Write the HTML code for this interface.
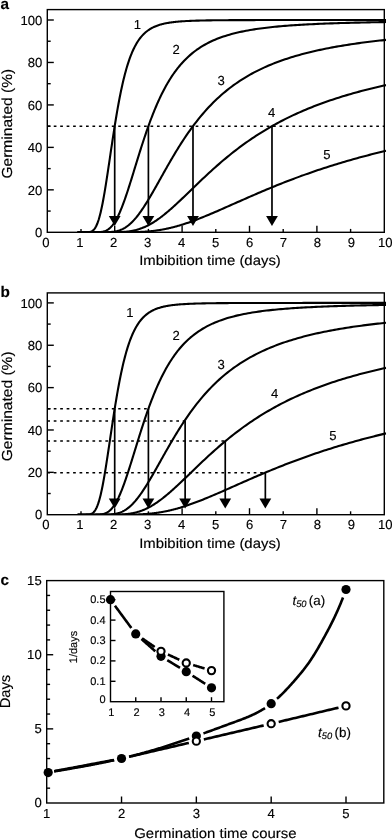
<!DOCTYPE html>
<html lang="en">
<head>
<meta charset="utf-8">
<title>Germination time courses</title>
<style>
html,body{margin:0;padding:0;background:#fff;}
body{width:392px;height:839px;overflow:hidden;}
svg{display:block;}
svg text{font-family:"Liberation Sans", Arial, Helvetica, sans-serif;fill:#000;}
</style>
</head>
<body>
<svg width="392" height="839" viewBox="0 0 392 839" stroke="#000" text-rendering="geometricPrecision">
<rect x="0" y="0" width="392" height="839" fill="#fff" stroke="none"/>
<g stroke="#000">
<g id="panel-a">
<clipPath id="clipa"><rect x="47.30" y="9.60" width="339.00" height="222.70"/></clipPath>
<line x1="47.30" y1="126.15" x2="384.30" y2="126.15" stroke-width="1.5" stroke-dasharray="2.7 3.75"/>
<g clip-path="url(#clipa)">
<path d="M77.63,232.30 L78.29,232.30 L78.94,232.30 L79.60,232.30 L80.26,232.30 L80.92,232.30 L81.57,232.30 L82.23,232.30 L82.89,232.30 L83.54,232.30 L84.20,232.30 L84.86,232.29 L85.51,232.29 L86.17,232.27 L86.83,232.26 L87.49,232.22 L88.14,232.18 L88.80,232.11 L89.46,232.01 L90.11,231.87 L90.77,231.67 L91.43,231.41 L92.08,231.07 L92.74,230.63 L93.40,230.08 L94.06,229.41 L94.71,228.58 L95.37,227.59 L96.03,226.42 L96.68,225.07 L97.34,223.51 L98.00,221.74 L98.66,219.75 L99.31,217.54 L99.97,215.10 L100.63,212.45 L101.28,209.58 L101.94,206.51 L102.60,203.23 L103.25,199.77 L103.91,196.14 L104.57,192.34 L105.23,188.41 L105.88,184.35 L106.54,180.18 L107.20,175.92 L107.85,171.59 L108.51,167.21 L109.17,162.79 L109.83,158.35 L110.48,153.90 L111.14,149.47 L111.80,145.06 L112.45,140.68 L113.11,136.35 L113.77,132.09 L114.42,127.89 L115.08,123.77 L115.74,119.73 L116.40,115.78 L117.05,111.93 L117.71,108.19 L118.37,104.54 L119.02,101.00 L119.68,97.57 L120.34,94.26 L120.99,91.05 L121.65,87.95 L122.31,84.96 L122.97,82.09 L123.62,79.32 L124.28,76.66 L124.94,74.11 L125.59,71.65 L126.25,69.30 L126.91,67.05 L127.57,64.89 L128.22,62.82 L128.88,60.85 L129.54,58.96 L130.19,57.16 L130.85,55.43 L131.51,53.79 L132.16,52.22 L132.82,50.72 L133.48,49.29 L134.14,47.93 L134.79,46.63 L135.45,45.39 L136.11,44.21 L136.76,43.09 L137.42,42.02 L138.08,41.00 L138.74,40.03 L139.39,39.11 L140.05,38.23 L140.71,37.40 L141.36,36.60 L142.02,35.84 L142.68,35.12 L143.33,34.44 L143.99,33.78 L144.65,33.16 L145.31,32.57 L145.96,32.01 L146.62,31.47 L147.28,30.96 L147.93,30.48 L148.59,30.01 L149.25,29.57 L149.90,29.15 L150.56,28.76 L151.22,28.38 L151.88,28.01 L152.53,27.67 L153.19,27.34 L153.85,27.03 L154.50,26.73 L155.16,26.44 L155.82,26.17 L156.48,25.91 L157.13,25.67 L157.79,25.43 L158.45,25.21 L159.10,25.00 L159.76,24.79 L160.42,24.60 L161.07,24.41 L161.73,24.23 L162.39,24.06 L163.05,23.90 L163.70,23.75 L164.36,23.60 L165.02,23.46 L165.67,23.32 L166.33,23.19 L166.99,23.07 L167.65,22.95 L168.30,22.84 L168.96,22.73 L169.62,22.63 L170.27,22.53 L170.93,22.44 L171.59,22.35 L172.24,22.26 L172.90,22.18 L173.56,22.10 L174.22,22.02 L174.87,21.95 L175.53,21.88 L176.19,21.81 L176.84,21.75 L177.50,21.69 L178.16,21.63 L178.81,21.57 L179.47,21.52 L180.13,21.46 L180.79,21.41 L181.44,21.36 L182.10,21.32 L184.16,21.18 L186.22,21.07 L188.28,20.96 L190.34,20.87 L192.40,20.79 L194.46,20.71 L196.52,20.65 L198.58,20.59 L200.63,20.54 L202.69,20.49 L204.75,20.45 L206.81,20.41 L208.87,20.38 L210.93,20.35 L212.99,20.32 L215.05,20.30 L217.11,20.27 L219.17,20.25 L221.23,20.23 L223.29,20.22 L225.35,20.20 L227.41,20.19 L229.47,20.17 L231.53,20.16 L233.59,20.15 L235.65,20.14 L237.71,20.13 L239.76,20.12 L241.82,20.12 L243.88,20.11 L245.94,20.10 L248.00,20.10 L250.06,20.09 L252.12,20.08 L254.18,20.08 L256.24,20.07 L258.30,20.07 L260.36,20.07 L262.42,20.06 L264.48,20.06 L266.54,20.06 L268.60,20.05 L270.66,20.05 L272.72,20.05 L274.78,20.05 L276.83,20.04 L278.89,20.04 L280.95,20.04 L283.01,20.04 L285.07,20.04 L287.13,20.03 L289.19,20.03 L291.25,20.03 L293.31,20.03 L295.37,20.03 L297.43,20.03 L299.49,20.03 L301.55,20.03 L303.61,20.02 L305.67,20.02 L307.73,20.02 L309.79,20.02 L311.85,20.02 L313.90,20.02 L315.96,20.02 L318.02,20.02 L320.08,20.02 L322.14,20.02 L324.20,20.02 L326.26,20.02 L328.32,20.02 L330.38,20.01 L332.44,20.01 L334.50,20.01 L336.56,20.01 L338.62,20.01 L340.68,20.01 L342.74,20.01 L344.80,20.01 L346.86,20.01 L348.92,20.01 L350.97,20.01 L353.03,20.01 L355.09,20.01 L357.15,20.01 L359.21,20.01 L361.27,20.01 L363.33,20.01 L365.39,20.01 L367.45,20.01 L369.51,20.01 L371.57,20.01 L373.63,20.01 L375.69,20.01 L377.75,20.01 L379.81,20.01 L381.87,20.01 L383.93,20.01 L385.99,20.01" fill="none" stroke-width="2.1" stroke-linejoin="round"/>
<path d="M77.63,232.30 L78.29,232.30 L78.94,232.30 L79.60,232.30 L80.26,232.30 L80.92,232.30 L81.57,232.30 L82.23,232.30 L82.89,232.30 L83.54,232.30 L84.20,232.30 L84.86,232.30 L85.51,232.30 L86.17,232.30 L86.83,232.30 L87.49,232.30 L88.14,232.30 L88.80,232.30 L89.46,232.30 L90.11,232.30 L90.77,232.30 L91.43,232.30 L92.08,232.30 L92.74,232.30 L93.40,232.29 L94.06,232.29 L94.71,232.28 L95.37,232.27 L96.03,232.26 L96.68,232.25 L97.34,232.23 L98.00,232.20 L98.66,232.17 L99.31,232.12 L99.97,232.07 L100.63,232.00 L101.28,231.92 L101.94,231.81 L102.60,231.69 L103.25,231.54 L103.91,231.37 L104.57,231.16 L105.23,230.92 L105.88,230.65 L106.54,230.34 L107.20,229.98 L107.85,229.58 L108.51,229.13 L109.17,228.63 L109.83,228.08 L110.48,227.48 L111.14,226.81 L111.80,226.09 L112.45,225.30 L113.11,224.46 L113.77,223.55 L114.42,222.58 L115.08,221.55 L115.74,220.45 L116.40,219.29 L117.05,218.06 L117.71,216.78 L118.37,215.43 L119.02,214.02 L119.68,212.56 L120.34,211.04 L120.99,209.46 L121.65,207.84 L122.31,206.16 L122.97,204.43 L123.62,202.66 L124.28,200.85 L124.94,198.99 L125.59,197.10 L126.25,195.18 L126.91,193.22 L127.57,191.23 L128.22,189.21 L128.88,187.18 L129.54,185.12 L130.19,183.04 L130.85,180.94 L131.51,178.83 L132.16,176.71 L132.82,174.58 L133.48,172.45 L134.14,170.31 L134.79,168.17 L135.45,166.03 L136.11,163.89 L136.76,161.75 L137.42,159.62 L138.08,157.50 L138.74,155.39 L139.39,153.28 L140.05,151.19 L140.71,149.12 L141.36,147.05 L142.02,145.01 L142.68,142.98 L143.33,140.97 L143.99,138.97 L144.65,137.00 L145.31,135.05 L145.96,133.12 L146.62,131.21 L147.28,129.32 L147.93,127.46 L148.59,125.62 L149.25,123.80 L149.90,122.01 L150.56,120.24 L151.22,118.50 L151.88,116.79 L152.53,115.09 L153.19,113.43 L153.85,111.79 L154.50,110.17 L155.16,108.58 L155.82,107.02 L156.48,105.48 L157.13,103.96 L157.79,102.48 L158.45,101.01 L159.10,99.57 L159.76,98.16 L160.42,96.77 L161.07,95.41 L161.73,94.07 L162.39,92.75 L163.05,91.46 L163.70,90.19 L164.36,88.94 L165.02,87.72 L165.67,86.52 L166.33,85.34 L166.99,84.19 L167.65,83.05 L168.30,81.94 L168.96,80.85 L169.62,79.78 L170.27,78.73 L170.93,77.70 L171.59,76.69 L172.24,75.70 L172.90,74.72 L173.56,73.77 L174.22,72.84 L174.87,71.92 L175.53,71.02 L176.19,70.14 L176.84,69.28 L177.50,68.43 L178.16,67.60 L178.81,66.79 L179.47,65.99 L180.13,65.21 L180.79,64.44 L181.44,63.69 L182.10,62.95 L184.16,60.74 L186.22,58.66 L188.28,56.70 L190.34,54.86 L192.40,53.13 L194.46,51.51 L196.52,49.98 L198.58,48.54 L200.63,47.19 L202.69,45.92 L204.75,44.72 L206.81,43.59 L208.87,42.52 L210.93,41.52 L212.99,40.57 L215.05,39.68 L217.11,38.83 L219.17,38.03 L221.23,37.28 L223.29,36.57 L225.35,35.89 L227.41,35.25 L229.47,34.65 L231.53,34.07 L233.59,33.53 L235.65,33.01 L237.71,32.52 L239.76,32.06 L241.82,31.61 L243.88,31.19 L245.94,30.79 L248.00,30.41 L250.06,30.05 L252.12,29.70 L254.18,29.37 L256.24,29.06 L258.30,28.76 L260.36,28.48 L262.42,28.20 L264.48,27.94 L266.54,27.69 L268.60,27.45 L270.66,27.23 L272.72,27.01 L274.78,26.80 L276.83,26.60 L278.89,26.41 L280.95,26.22 L283.01,26.05 L285.07,25.88 L287.13,25.71 L289.19,25.56 L291.25,25.41 L293.31,25.26 L295.37,25.13 L297.43,24.99 L299.49,24.86 L301.55,24.74 L303.61,24.62 L305.67,24.51 L307.73,24.40 L309.79,24.29 L311.85,24.19 L313.90,24.09 L315.96,23.99 L318.02,23.90 L320.08,23.81 L322.14,23.73 L324.20,23.64 L326.26,23.56 L328.32,23.49 L330.38,23.41 L332.44,23.34 L334.50,23.27 L336.56,23.20 L338.62,23.13 L340.68,23.07 L342.74,23.01 L344.80,22.95 L346.86,22.89 L348.92,22.83 L350.97,22.78 L353.03,22.73 L355.09,22.67 L357.15,22.62 L359.21,22.58 L361.27,22.53 L363.33,22.48 L365.39,22.44 L367.45,22.40 L369.51,22.35 L371.57,22.31 L373.63,22.27 L375.69,22.23 L377.75,22.20 L379.81,22.16 L381.87,22.12 L383.93,22.09 L385.99,22.06" fill="none" stroke-width="2.1" stroke-linejoin="round"/>
<path d="M77.63,232.30 L78.29,232.30 L78.94,232.30 L79.60,232.30 L80.26,232.30 L80.92,232.30 L81.57,232.30 L82.23,232.30 L82.89,232.30 L83.54,232.30 L84.20,232.30 L84.86,232.30 L85.51,232.30 L86.17,232.30 L86.83,232.30 L87.49,232.30 L88.14,232.30 L88.80,232.30 L89.46,232.30 L90.11,232.30 L90.77,232.30 L91.43,232.30 L92.08,232.30 L92.74,232.30 L93.40,232.30 L94.06,232.30 L94.71,232.30 L95.37,232.30 L96.03,232.30 L96.68,232.30 L97.34,232.30 L98.00,232.30 L98.66,232.30 L99.31,232.30 L99.97,232.30 L100.63,232.29 L101.28,232.29 L101.94,232.29 L102.60,232.28 L103.25,232.28 L103.91,232.27 L104.57,232.26 L105.23,232.25 L105.88,232.24 L106.54,232.22 L107.20,232.20 L107.85,232.18 L108.51,232.15 L109.17,232.12 L109.83,232.08 L110.48,232.03 L111.14,231.98 L111.80,231.92 L112.45,231.85 L113.11,231.77 L113.77,231.68 L114.42,231.58 L115.08,231.47 L115.74,231.34 L116.40,231.20 L117.05,231.05 L117.71,230.88 L118.37,230.69 L119.02,230.49 L119.68,230.27 L120.34,230.03 L120.99,229.77 L121.65,229.49 L122.31,229.19 L122.97,228.87 L123.62,228.53 L124.28,228.17 L124.94,227.78 L125.59,227.37 L126.25,226.94 L126.91,226.48 L127.57,226.00 L128.22,225.50 L128.88,224.97 L129.54,224.42 L130.19,223.84 L130.85,223.24 L131.51,222.62 L132.16,221.97 L132.82,221.30 L133.48,220.61 L134.14,219.89 L134.79,219.15 L135.45,218.39 L136.11,217.61 L136.76,216.80 L137.42,215.98 L138.08,215.13 L138.74,214.27 L139.39,213.39 L140.05,212.48 L140.71,211.56 L141.36,210.62 L142.02,209.67 L142.68,208.70 L143.33,207.71 L143.99,206.71 L144.65,205.69 L145.31,204.66 L145.96,203.62 L146.62,202.57 L147.28,201.50 L147.93,200.42 L148.59,199.33 L149.25,198.24 L149.90,197.13 L150.56,196.01 L151.22,194.89 L151.88,193.76 L152.53,192.62 L153.19,191.48 L153.85,190.33 L154.50,189.18 L155.16,188.02 L155.82,186.86 L156.48,185.69 L157.13,184.53 L157.79,183.36 L158.45,182.18 L159.10,181.01 L159.76,179.84 L160.42,178.66 L161.07,177.49 L161.73,176.32 L162.39,175.14 L163.05,173.97 L163.70,172.80 L164.36,171.64 L165.02,170.47 L165.67,169.31 L166.33,168.15 L166.99,167.00 L167.65,165.84 L168.30,164.70 L168.96,163.55 L169.62,162.41 L170.27,161.28 L170.93,160.15 L171.59,159.03 L172.24,157.91 L172.90,156.79 L173.56,155.69 L174.22,154.59 L174.87,153.49 L175.53,152.40 L176.19,151.32 L176.84,150.24 L177.50,149.18 L178.16,148.11 L178.81,147.06 L179.47,146.01 L180.13,144.97 L180.79,143.94 L181.44,142.91 L182.10,141.90 L184.16,138.75 L186.22,135.69 L188.28,132.70 L190.34,129.79 L192.40,126.96 L194.46,124.21 L196.52,121.53 L198.58,118.94 L200.63,116.41 L202.69,113.97 L204.75,111.60 L206.81,109.30 L208.87,107.07 L210.93,104.91 L212.99,102.81 L215.05,100.79 L217.11,98.83 L219.17,96.92 L221.23,95.08 L223.29,93.30 L225.35,91.58 L227.41,89.91 L229.47,88.29 L231.53,86.72 L233.59,85.21 L235.65,83.74 L237.71,82.32 L239.76,80.94 L241.82,79.61 L243.88,78.31 L245.94,77.06 L248.00,75.85 L250.06,74.68 L252.12,73.54 L254.18,72.43 L256.24,71.36 L258.30,70.32 L260.36,69.32 L262.42,68.34 L264.48,67.40 L266.54,66.48 L268.60,65.58 L270.66,64.72 L272.72,63.88 L274.78,63.06 L276.83,62.27 L278.89,61.50 L280.95,60.75 L283.01,60.03 L285.07,59.32 L287.13,58.63 L289.19,57.97 L291.25,57.32 L293.31,56.69 L295.37,56.07 L297.43,55.48 L299.49,54.89 L301.55,54.33 L303.61,53.78 L305.67,53.24 L307.73,52.72 L309.79,52.21 L311.85,51.71 L313.90,51.23 L315.96,50.76 L318.02,50.30 L320.08,49.85 L322.14,49.41 L324.20,48.99 L326.26,48.57 L328.32,48.17 L330.38,47.77 L332.44,47.39 L334.50,47.01 L336.56,46.64 L338.62,46.28 L340.68,45.93 L342.74,45.59 L344.80,45.25 L346.86,44.93 L348.92,44.61 L350.97,44.30 L353.03,43.99 L355.09,43.69 L357.15,43.40 L359.21,43.11 L361.27,42.83 L363.33,42.56 L365.39,42.29 L367.45,42.03 L369.51,41.77 L371.57,41.52 L373.63,41.28 L375.69,41.04 L377.75,40.80 L379.81,40.57 L381.87,40.34 L383.93,40.12 L385.99,39.90" fill="none" stroke-width="2.1" stroke-linejoin="round"/>
<path d="M77.63,232.30 L78.29,232.30 L78.94,232.30 L79.60,232.30 L80.26,232.30 L80.92,232.30 L81.57,232.30 L82.23,232.30 L82.89,232.30 L83.54,232.30 L84.20,232.30 L84.86,232.30 L85.51,232.30 L86.17,232.30 L86.83,232.30 L87.49,232.30 L88.14,232.30 L88.80,232.30 L89.46,232.30 L90.11,232.30 L90.77,232.30 L91.43,232.30 L92.08,232.30 L92.74,232.30 L93.40,232.30 L94.06,232.30 L94.71,232.30 L95.37,232.30 L96.03,232.30 L96.68,232.30 L97.34,232.30 L98.00,232.30 L98.66,232.30 L99.31,232.30 L99.97,232.30 L100.63,232.30 L101.28,232.30 L101.94,232.30 L102.60,232.30 L103.25,232.30 L103.91,232.30 L104.57,232.30 L105.23,232.30 L105.88,232.30 L106.54,232.30 L107.20,232.30 L107.85,232.29 L108.51,232.29 L109.17,232.29 L109.83,232.29 L110.48,232.29 L111.14,232.28 L111.80,232.28 L112.45,232.27 L113.11,232.27 L113.77,232.26 L114.42,232.25 L115.08,232.25 L115.74,232.23 L116.40,232.22 L117.05,232.21 L117.71,232.19 L118.37,232.17 L119.02,232.15 L119.68,232.13 L120.34,232.10 L120.99,232.07 L121.65,232.04 L122.31,232.01 L122.97,231.97 L123.62,231.92 L124.28,231.87 L124.94,231.82 L125.59,231.76 L126.25,231.70 L126.91,231.63 L127.57,231.56 L128.22,231.48 L128.88,231.40 L129.54,231.30 L130.19,231.21 L130.85,231.10 L131.51,230.99 L132.16,230.87 L132.82,230.74 L133.48,230.61 L134.14,230.47 L134.79,230.32 L135.45,230.16 L136.11,229.99 L136.76,229.82 L137.42,229.63 L138.08,229.44 L138.74,229.24 L139.39,229.03 L140.05,228.81 L140.71,228.58 L141.36,228.34 L142.02,228.10 L142.68,227.84 L143.33,227.57 L143.99,227.30 L144.65,227.02 L145.31,226.72 L145.96,226.42 L146.62,226.11 L147.28,225.79 L147.93,225.45 L148.59,225.11 L149.25,224.77 L149.90,224.41 L150.56,224.04 L151.22,223.66 L151.88,223.28 L152.53,222.89 L153.19,222.49 L153.85,222.07 L154.50,221.66 L155.16,221.23 L155.82,220.79 L156.48,220.35 L157.13,219.90 L157.79,219.44 L158.45,218.98 L159.10,218.50 L159.76,218.02 L160.42,217.54 L161.07,217.04 L161.73,216.54 L162.39,216.03 L163.05,215.52 L163.70,215.00 L164.36,214.47 L165.02,213.94 L165.67,213.40 L166.33,212.86 L166.99,212.31 L167.65,211.76 L168.30,211.20 L168.96,210.64 L169.62,210.07 L170.27,209.50 L170.93,208.92 L171.59,208.34 L172.24,207.76 L172.90,207.17 L173.56,206.57 L174.22,205.98 L174.87,205.38 L175.53,204.78 L176.19,204.17 L176.84,203.56 L177.50,202.95 L178.16,202.34 L178.81,201.73 L179.47,201.11 L180.13,200.49 L180.79,199.87 L181.44,199.24 L182.10,198.62 L184.16,196.65 L186.22,194.67 L188.28,192.68 L190.34,190.69 L192.40,188.70 L194.46,186.71 L196.52,184.73 L198.58,182.75 L200.63,180.79 L202.69,178.83 L204.75,176.89 L206.81,174.97 L208.87,173.06 L210.93,171.18 L212.99,169.31 L215.05,167.46 L217.11,165.64 L219.17,163.84 L221.23,162.06 L223.29,160.31 L225.35,158.58 L227.41,156.87 L229.47,155.20 L231.53,153.54 L233.59,151.91 L235.65,150.31 L237.71,148.74 L239.76,147.19 L241.82,145.66 L243.88,144.16 L245.94,142.69 L248.00,141.24 L250.06,139.82 L252.12,138.42 L254.18,137.04 L256.24,135.69 L258.30,134.37 L260.36,133.06 L262.42,131.78 L264.48,130.53 L266.54,129.30 L268.60,128.08 L270.66,126.90 L272.72,125.73 L274.78,124.58 L276.83,123.46 L278.89,122.35 L280.95,121.27 L283.01,120.20 L285.07,119.16 L287.13,118.13 L289.19,117.12 L291.25,116.13 L293.31,115.16 L295.37,114.20 L297.43,113.27 L299.49,112.35 L301.55,111.44 L303.61,110.56 L305.67,109.68 L307.73,108.83 L309.79,107.99 L311.85,107.16 L313.90,106.35 L315.96,105.55 L318.02,104.77 L320.08,104.00 L322.14,103.24 L324.20,102.50 L326.26,101.77 L328.32,101.05 L330.38,100.35 L332.44,99.65 L334.50,98.97 L336.56,98.30 L338.62,97.64 L340.68,97.00 L342.74,96.36 L344.80,95.73 L346.86,95.12 L348.92,94.51 L350.97,93.92 L353.03,93.33 L355.09,92.75 L357.15,92.19 L359.21,91.63 L361.27,91.08 L363.33,90.54 L365.39,90.01 L367.45,89.49 L369.51,88.97 L371.57,88.47 L373.63,87.97 L375.69,87.48 L377.75,86.99 L379.81,86.52 L381.87,86.05 L383.93,85.59 L385.99,85.13" fill="none" stroke-width="2.1" stroke-linejoin="round"/>
<path d="M77.63,232.30 L78.29,232.30 L78.94,232.30 L79.60,232.30 L80.26,232.30 L80.92,232.30 L81.57,232.30 L82.23,232.30 L82.89,232.30 L83.54,232.30 L84.20,232.30 L84.86,232.30 L85.51,232.30 L86.17,232.30 L86.83,232.30 L87.49,232.30 L88.14,232.30 L88.80,232.30 L89.46,232.30 L90.11,232.30 L90.77,232.30 L91.43,232.30 L92.08,232.30 L92.74,232.30 L93.40,232.30 L94.06,232.30 L94.71,232.30 L95.37,232.30 L96.03,232.30 L96.68,232.30 L97.34,232.30 L98.00,232.30 L98.66,232.30 L99.31,232.30 L99.97,232.30 L100.63,232.30 L101.28,232.30 L101.94,232.30 L102.60,232.30 L103.25,232.30 L103.91,232.30 L104.57,232.30 L105.23,232.30 L105.88,232.30 L106.54,232.30 L107.20,232.30 L107.85,232.30 L108.51,232.30 L109.17,232.30 L109.83,232.30 L110.48,232.30 L111.14,232.30 L111.80,232.30 L112.45,232.30 L113.11,232.30 L113.77,232.30 L114.42,232.30 L115.08,232.30 L115.74,232.30 L116.40,232.30 L117.05,232.30 L117.71,232.30 L118.37,232.29 L119.02,232.29 L119.68,232.29 L120.34,232.29 L120.99,232.29 L121.65,232.29 L122.31,232.28 L122.97,232.28 L123.62,232.28 L124.28,232.28 L124.94,232.27 L125.59,232.27 L126.25,232.26 L126.91,232.26 L127.57,232.25 L128.22,232.24 L128.88,232.24 L129.54,232.23 L130.19,232.22 L130.85,232.21 L131.51,232.20 L132.16,232.19 L132.82,232.17 L133.48,232.16 L134.14,232.14 L134.79,232.13 L135.45,232.11 L136.11,232.09 L136.76,232.07 L137.42,232.05 L138.08,232.02 L138.74,232.00 L139.39,231.97 L140.05,231.94 L140.71,231.91 L141.36,231.88 L142.02,231.85 L142.68,231.81 L143.33,231.77 L143.99,231.73 L144.65,231.69 L145.31,231.65 L145.96,231.60 L146.62,231.55 L147.28,231.50 L147.93,231.44 L148.59,231.39 L149.25,231.33 L149.90,231.26 L150.56,231.20 L151.22,231.13 L151.88,231.06 L152.53,230.99 L153.19,230.92 L153.85,230.84 L154.50,230.76 L155.16,230.67 L155.82,230.59 L156.48,230.50 L157.13,230.40 L157.79,230.31 L158.45,230.21 L159.10,230.11 L159.76,230.00 L160.42,229.90 L161.07,229.78 L161.73,229.67 L162.39,229.55 L163.05,229.43 L163.70,229.31 L164.36,229.19 L165.02,229.06 L165.67,228.92 L166.33,228.79 L166.99,228.65 L167.65,228.51 L168.30,228.37 L168.96,228.22 L169.62,228.07 L170.27,227.92 L170.93,227.76 L171.59,227.60 L172.24,227.44 L172.90,227.27 L173.56,227.11 L174.22,226.93 L174.87,226.76 L175.53,226.58 L176.19,226.41 L176.84,226.22 L177.50,226.04 L178.16,225.85 L178.81,225.66 L179.47,225.47 L180.13,225.27 L180.79,225.08 L181.44,224.87 L182.10,224.67 L184.16,224.02 L186.22,223.34 L188.28,222.65 L190.34,221.93 L192.40,221.19 L194.46,220.43 L196.52,219.66 L198.58,218.86 L200.63,218.06 L202.69,217.24 L204.75,216.40 L206.81,215.55 L208.87,214.70 L210.93,213.83 L212.99,212.96 L215.05,212.07 L217.11,211.18 L219.17,210.29 L221.23,209.38 L223.29,208.48 L225.35,207.57 L227.41,206.66 L229.47,205.74 L231.53,204.83 L233.59,203.91 L235.65,203.00 L237.71,202.08 L239.76,201.17 L241.82,200.26 L243.88,199.35 L245.94,198.44 L248.00,197.53 L250.06,196.63 L252.12,195.73 L254.18,194.84 L256.24,193.95 L258.30,193.06 L260.36,192.18 L262.42,191.31 L264.48,190.44 L266.54,189.57 L268.60,188.72 L270.66,187.86 L272.72,187.02 L274.78,186.18 L276.83,185.34 L278.89,184.51 L280.95,183.69 L283.01,182.88 L285.07,182.07 L287.13,181.27 L289.19,180.48 L291.25,179.69 L293.31,178.91 L295.37,178.14 L297.43,177.37 L299.49,176.62 L301.55,175.86 L303.61,175.12 L305.67,174.38 L307.73,173.65 L309.79,172.93 L311.85,172.21 L313.90,171.51 L315.96,170.80 L318.02,170.11 L320.08,169.42 L322.14,168.74 L324.20,168.07 L326.26,167.40 L328.32,166.74 L330.38,166.08 L332.44,165.44 L334.50,164.80 L336.56,164.16 L338.62,163.54 L340.68,162.91 L342.74,162.30 L344.80,161.69 L346.86,161.09 L348.92,160.50 L350.97,159.91 L353.03,159.32 L355.09,158.75 L357.15,158.18 L359.21,157.61 L361.27,157.05 L363.33,156.50 L365.39,155.95 L367.45,155.41 L369.51,154.87 L371.57,154.34 L373.63,153.82 L375.69,153.30 L377.75,152.78 L379.81,152.27 L381.87,151.77 L383.93,151.27 L385.99,150.78" fill="none" stroke-width="2.1" stroke-linejoin="round"/>
</g>
<line x1="114.70" y1="126.15" x2="114.70" y2="221.00" stroke-width="1.7"/>
<polygon points="108.80,216.00 120.60,216.00 114.70,226.00" fill="#000" stroke="none"/>
<line x1="148.40" y1="126.15" x2="148.40" y2="221.00" stroke-width="1.7"/>
<polygon points="142.50,216.00 154.30,216.00 148.40,226.00" fill="#000" stroke="none"/>
<line x1="192.99" y1="126.15" x2="192.99" y2="221.00" stroke-width="1.7"/>
<polygon points="187.09,216.00 198.89,216.00 192.99,226.00" fill="#000" stroke="none"/>
<line x1="271.98" y1="126.15" x2="271.98" y2="221.00" stroke-width="1.7"/>
<polygon points="266.08,216.00 277.88,216.00 271.98,226.00" fill="#000" stroke="none"/>
<rect x="47.30" y="9.60" width="337.00" height="222.70" fill="none" stroke-width="1.4"/>
<text stroke="#000" stroke-width="0.15" transform="translate(42.30,237.00) scale(1.0,1)" font-size="13.1" text-anchor="end">0</text>
<line x1="47.30" y1="211.07" x2="50.70" y2="211.07" stroke-width="1.4"/>
<line x1="47.30" y1="189.84" x2="53.80" y2="189.84" stroke-width="1.4"/>
<text stroke="#000" stroke-width="0.15" transform="translate(42.30,194.54) scale(1.0,1)" font-size="13.1" text-anchor="end">20</text>
<line x1="47.30" y1="168.61" x2="50.70" y2="168.61" stroke-width="1.4"/>
<line x1="47.30" y1="147.38" x2="53.80" y2="147.38" stroke-width="1.4"/>
<text stroke="#000" stroke-width="0.15" transform="translate(42.30,152.08) scale(1.0,1)" font-size="13.1" text-anchor="end">40</text>
<line x1="47.30" y1="126.15" x2="50.70" y2="126.15" stroke-width="1.4"/>
<line x1="47.30" y1="104.92" x2="53.80" y2="104.92" stroke-width="1.4"/>
<text stroke="#000" stroke-width="0.15" transform="translate(42.30,109.62) scale(1.0,1)" font-size="13.1" text-anchor="end">60</text>
<line x1="47.30" y1="83.69" x2="50.70" y2="83.69" stroke-width="1.4"/>
<line x1="47.30" y1="62.46" x2="53.80" y2="62.46" stroke-width="1.4"/>
<text stroke="#000" stroke-width="0.15" transform="translate(42.30,67.16) scale(1.0,1)" font-size="13.1" text-anchor="end">80</text>
<line x1="47.30" y1="41.23" x2="50.70" y2="41.23" stroke-width="1.4"/>
<line x1="47.30" y1="20.00" x2="53.80" y2="20.00" stroke-width="1.4"/>
<text stroke="#000" stroke-width="0.15" transform="translate(42.30,24.70) scale(1.0,1)" font-size="13.1" text-anchor="end">100</text>
<text stroke="#000" stroke-width="0.15" transform="translate(45.85,246.80) scale(1.0,1)" font-size="13.1" text-anchor="middle">0</text>
<line x1="81.00" y1="232.30" x2="81.00" y2="228.90" stroke-width="1.4"/>
<text stroke="#000" stroke-width="0.15" transform="translate(79.80,246.80) scale(1.0,1)" font-size="13.1" text-anchor="middle">1</text>
<line x1="114.70" y1="232.30" x2="114.70" y2="225.80" stroke-width="1.4"/>
<text stroke="#000" stroke-width="0.15" transform="translate(113.75,246.80) scale(1.0,1)" font-size="13.1" text-anchor="middle">2</text>
<line x1="148.40" y1="232.30" x2="148.40" y2="228.90" stroke-width="1.4"/>
<text stroke="#000" stroke-width="0.15" transform="translate(147.70,246.80) scale(1.0,1)" font-size="13.1" text-anchor="middle">3</text>
<line x1="182.10" y1="232.30" x2="182.10" y2="225.80" stroke-width="1.4"/>
<text stroke="#000" stroke-width="0.15" transform="translate(181.65,246.80) scale(1.0,1)" font-size="13.1" text-anchor="middle">4</text>
<line x1="215.80" y1="232.30" x2="215.80" y2="228.90" stroke-width="1.4"/>
<text stroke="#000" stroke-width="0.15" transform="translate(215.60,246.80) scale(1.0,1)" font-size="13.1" text-anchor="middle">5</text>
<line x1="249.50" y1="232.30" x2="249.50" y2="225.80" stroke-width="1.4"/>
<text stroke="#000" stroke-width="0.15" transform="translate(249.55,246.80) scale(1.0,1)" font-size="13.1" text-anchor="middle">6</text>
<line x1="283.20" y1="232.30" x2="283.20" y2="228.90" stroke-width="1.4"/>
<text stroke="#000" stroke-width="0.15" transform="translate(283.50,246.80) scale(1.0,1)" font-size="13.1" text-anchor="middle">7</text>
<line x1="316.90" y1="232.30" x2="316.90" y2="225.80" stroke-width="1.4"/>
<text stroke="#000" stroke-width="0.15" transform="translate(317.45,246.80) scale(1.0,1)" font-size="13.1" text-anchor="middle">8</text>
<line x1="350.60" y1="232.30" x2="350.60" y2="228.90" stroke-width="1.4"/>
<text stroke="#000" stroke-width="0.15" transform="translate(351.40,246.80) scale(1.0,1)" font-size="13.1" text-anchor="middle">9</text>
<text stroke="#000" stroke-width="0.15" transform="translate(385.35,246.80) scale(1.0,1)" font-size="13.1" text-anchor="middle">10</text>
<text stroke="#000" stroke-width="0.15" transform="translate(210.00,265.20) scale(1.08,1)" font-size="13.8" text-anchor="middle">Imbibition time (days)</text>
<text stroke="#000" stroke-width="0.15" transform="translate(11.50,123.65) rotate(-90) scale(1.074,1)" font-size="14.5" text-anchor="middle">Germinated (%)</text>
<text stroke="#000" stroke-width="0.15" transform="translate(137.30,29.00) scale(1.0,1)" font-size="13.1" text-anchor="middle">1</text>
<text stroke="#000" stroke-width="0.15" transform="translate(176.20,53.50) scale(1.0,1)" font-size="13.1" text-anchor="middle">2</text>
<text stroke="#000" stroke-width="0.15" transform="translate(221.20,85.00) scale(1.0,1)" font-size="13.1" text-anchor="middle">3</text>
<text stroke="#000" stroke-width="0.15" transform="translate(271.70,116.70) scale(1.0,1)" font-size="13.1" text-anchor="middle">4</text>
<text stroke="#000" stroke-width="0.15" transform="translate(327.00,158.70) scale(1.0,1)" font-size="13.1" text-anchor="middle">5</text>
<text stroke="#000" stroke-width="0.15" x="0.4" y="8.8" font-size="15.3" font-weight="bold">a</text>
</g>
<g id="panel-b">
<clipPath id="clipb"><rect x="47.30" y="292.90" width="339.00" height="221.80"/></clipPath>
<line x1="47.30" y1="408.80" x2="148.40" y2="408.80" stroke-width="1.5" stroke-dasharray="2.7 3.75"/>
<line x1="47.30" y1="421.08" x2="185.13" y2="421.08" stroke-width="1.5" stroke-dasharray="2.7 3.75"/>
<line x1="47.30" y1="440.99" x2="225.24" y2="440.99" stroke-width="1.5" stroke-dasharray="2.7 3.75"/>
<line x1="47.30" y1="472.76" x2="265.34" y2="472.76" stroke-width="1.5" stroke-dasharray="2.7 3.75"/>
<g clip-path="url(#clipb)">
<path d="M77.63,514.70 L78.29,514.70 L78.94,514.70 L79.60,514.70 L80.26,514.70 L80.92,514.70 L81.57,514.70 L82.23,514.70 L82.89,514.70 L83.54,514.70 L84.20,514.70 L84.86,514.69 L85.51,514.69 L86.17,514.67 L86.83,514.66 L87.49,514.62 L88.14,514.58 L88.80,514.51 L89.46,514.41 L90.11,514.27 L90.77,514.07 L91.43,513.81 L92.08,513.47 L92.74,513.04 L93.40,512.49 L94.06,511.81 L94.71,510.99 L95.37,510.00 L96.03,508.84 L96.68,507.48 L97.34,505.93 L98.00,504.16 L98.66,502.18 L99.31,499.97 L99.97,497.54 L100.63,494.90 L101.28,492.04 L101.94,488.97 L102.60,485.70 L103.25,482.25 L103.91,478.62 L104.57,474.84 L105.23,470.91 L105.88,466.86 L106.54,462.70 L107.20,458.46 L107.85,454.14 L108.51,449.76 L109.17,445.35 L109.83,440.92 L110.48,436.49 L111.14,432.06 L111.80,427.66 L112.45,423.30 L113.11,418.98 L113.77,414.72 L114.42,410.53 L115.08,406.42 L115.74,402.40 L116.40,398.46 L117.05,394.62 L117.71,390.88 L118.37,387.24 L119.02,383.71 L119.68,380.29 L120.34,376.98 L120.99,373.78 L121.65,370.69 L122.31,367.71 L122.97,364.84 L123.62,362.08 L124.28,359.43 L124.94,356.88 L125.59,354.43 L126.25,352.08 L126.91,349.84 L127.57,347.68 L128.22,345.62 L128.88,343.65 L129.54,341.77 L130.19,339.97 L130.85,338.25 L131.51,336.61 L132.16,335.04 L132.82,333.55 L133.48,332.12 L134.14,330.76 L134.79,329.47 L135.45,328.23 L136.11,327.06 L136.76,325.94 L137.42,324.87 L138.08,323.85 L138.74,322.89 L139.39,321.97 L140.05,321.09 L140.71,320.26 L141.36,319.46 L142.02,318.71 L142.68,317.99 L143.33,317.30 L143.99,316.65 L144.65,316.03 L145.31,315.44 L145.96,314.88 L146.62,314.34 L147.28,313.84 L147.93,313.35 L148.59,312.89 L149.25,312.45 L149.90,312.03 L150.56,311.64 L151.22,311.26 L151.88,310.89 L152.53,310.55 L153.19,310.22 L153.85,309.91 L154.50,309.61 L155.16,309.33 L155.82,309.06 L156.48,308.80 L157.13,308.55 L157.79,308.32 L158.45,308.10 L159.10,307.88 L159.76,307.68 L160.42,307.49 L161.07,307.30 L161.73,307.12 L162.39,306.95 L163.05,306.79 L163.70,306.64 L164.36,306.49 L165.02,306.35 L165.67,306.22 L166.33,306.09 L166.99,305.96 L167.65,305.85 L168.30,305.73 L168.96,305.63 L169.62,305.52 L170.27,305.43 L170.93,305.33 L171.59,305.24 L172.24,305.15 L172.90,305.07 L173.56,304.99 L174.22,304.92 L174.87,304.84 L175.53,304.77 L176.19,304.71 L176.84,304.64 L177.50,304.58 L178.16,304.52 L178.81,304.47 L179.47,304.41 L180.13,304.36 L180.79,304.31 L181.44,304.26 L182.10,304.22 L184.16,304.08 L186.22,303.96 L188.28,303.86 L190.34,303.77 L192.40,303.69 L194.46,303.61 L196.52,303.55 L198.58,303.49 L200.63,303.44 L202.69,303.39 L204.75,303.35 L206.81,303.31 L208.87,303.28 L210.93,303.25 L212.99,303.22 L215.05,303.19 L217.11,303.17 L219.17,303.15 L221.23,303.13 L223.29,303.12 L225.35,303.10 L227.41,303.09 L229.47,303.07 L231.53,303.06 L233.59,303.05 L235.65,303.04 L237.71,303.03 L239.76,303.02 L241.82,303.01 L243.88,303.01 L245.94,303.00 L248.00,303.00 L250.06,302.99 L252.12,302.98 L254.18,302.98 L256.24,302.97 L258.30,302.97 L260.36,302.97 L262.42,302.96 L264.48,302.96 L266.54,302.96 L268.60,302.95 L270.66,302.95 L272.72,302.95 L274.78,302.95 L276.83,302.94 L278.89,302.94 L280.95,302.94 L283.01,302.94 L285.07,302.94 L287.13,302.93 L289.19,302.93 L291.25,302.93 L293.31,302.93 L295.37,302.93 L297.43,302.93 L299.49,302.93 L301.55,302.93 L303.61,302.92 L305.67,302.92 L307.73,302.92 L309.79,302.92 L311.85,302.92 L313.90,302.92 L315.96,302.92 L318.02,302.92 L320.08,302.92 L322.14,302.92 L324.20,302.92 L326.26,302.92 L328.32,302.92 L330.38,302.91 L332.44,302.91 L334.50,302.91 L336.56,302.91 L338.62,302.91 L340.68,302.91 L342.74,302.91 L344.80,302.91 L346.86,302.91 L348.92,302.91 L350.97,302.91 L353.03,302.91 L355.09,302.91 L357.15,302.91 L359.21,302.91 L361.27,302.91 L363.33,302.91 L365.39,302.91 L367.45,302.91 L369.51,302.91 L371.57,302.91 L373.63,302.91 L375.69,302.91 L377.75,302.91 L379.81,302.91 L381.87,302.91 L383.93,302.91 L385.99,302.91" fill="none" stroke-width="2.1" stroke-linejoin="round"/>
<path d="M77.63,514.70 L78.29,514.70 L78.94,514.70 L79.60,514.70 L80.26,514.70 L80.92,514.70 L81.57,514.70 L82.23,514.70 L82.89,514.70 L83.54,514.70 L84.20,514.70 L84.86,514.70 L85.51,514.70 L86.17,514.70 L86.83,514.70 L87.49,514.70 L88.14,514.70 L88.80,514.70 L89.46,514.70 L90.11,514.70 L90.77,514.70 L91.43,514.70 L92.08,514.70 L92.74,514.70 L93.40,514.69 L94.06,514.69 L94.71,514.68 L95.37,514.68 L96.03,514.66 L96.68,514.65 L97.34,514.63 L98.00,514.60 L98.66,514.57 L99.31,514.52 L99.97,514.47 L100.63,514.40 L101.28,514.32 L101.94,514.21 L102.60,514.09 L103.25,513.94 L103.91,513.77 L104.57,513.56 L105.23,513.33 L105.88,513.05 L106.54,512.74 L107.20,512.39 L107.85,511.99 L108.51,511.54 L109.17,511.04 L109.83,510.49 L110.48,509.89 L111.14,509.22 L111.80,508.50 L112.45,507.72 L113.11,506.88 L113.77,505.97 L114.42,505.00 L115.08,503.97 L115.74,502.88 L116.40,501.72 L117.05,500.50 L117.71,499.21 L118.37,497.87 L119.02,496.47 L119.68,495.01 L120.34,493.49 L120.99,491.92 L121.65,490.29 L122.31,488.62 L122.97,486.90 L123.62,485.13 L124.28,483.32 L124.94,481.47 L125.59,479.59 L126.25,477.66 L126.91,475.71 L127.57,473.73 L128.22,471.72 L128.88,469.68 L129.54,467.63 L130.19,465.55 L130.85,463.46 L131.51,461.36 L132.16,459.24 L132.82,457.12 L133.48,454.99 L134.14,452.85 L134.79,450.72 L135.45,448.58 L136.11,446.45 L136.76,444.32 L137.42,442.19 L138.08,440.07 L138.74,437.97 L139.39,435.87 L140.05,433.78 L140.71,431.71 L141.36,429.65 L142.02,427.61 L142.68,425.59 L143.33,423.58 L143.99,421.59 L144.65,419.62 L145.31,417.68 L145.96,415.75 L146.62,413.85 L147.28,411.96 L147.93,410.10 L148.59,408.27 L149.25,406.46 L149.90,404.67 L150.56,402.91 L151.22,401.17 L151.88,399.46 L152.53,397.77 L153.19,396.11 L153.85,394.47 L154.50,392.86 L155.16,391.27 L155.82,389.71 L156.48,388.18 L157.13,386.67 L157.79,385.18 L158.45,383.72 L159.10,382.29 L159.76,380.88 L160.42,379.49 L161.07,378.13 L161.73,376.79 L162.39,375.48 L163.05,374.19 L163.70,372.92 L164.36,371.68 L165.02,370.46 L165.67,369.26 L166.33,368.09 L166.99,366.94 L167.65,365.80 L168.30,364.69 L168.96,363.61 L169.62,362.54 L170.27,361.49 L170.93,360.46 L171.59,359.45 L172.24,358.46 L172.90,357.50 L173.56,356.54 L174.22,355.61 L174.87,354.70 L175.53,353.80 L176.19,352.92 L176.84,352.06 L177.50,351.22 L178.16,350.39 L178.81,349.58 L179.47,348.78 L180.13,348.00 L180.79,347.24 L181.44,346.49 L182.10,345.75 L184.16,343.54 L186.22,341.47 L188.28,339.51 L190.34,337.68 L192.40,335.96 L194.46,334.33 L196.52,332.81 L198.58,331.38 L200.63,330.03 L202.69,328.76 L204.75,327.56 L206.81,326.43 L208.87,325.37 L210.93,324.37 L212.99,323.42 L215.05,322.53 L217.11,321.69 L219.17,320.89 L221.23,320.14 L223.29,319.43 L225.35,318.75 L227.41,318.12 L229.47,317.51 L231.53,316.94 L233.59,316.40 L235.65,315.88 L237.71,315.39 L239.76,314.93 L241.82,314.49 L243.88,314.07 L245.94,313.67 L248.00,313.29 L250.06,312.93 L252.12,312.58 L254.18,312.25 L256.24,311.94 L258.30,311.64 L260.36,311.36 L262.42,311.08 L264.48,310.82 L266.54,310.57 L268.60,310.34 L270.66,310.11 L272.72,309.89 L274.78,309.68 L276.83,309.48 L278.89,309.29 L280.95,309.11 L283.01,308.93 L285.07,308.76 L287.13,308.60 L289.19,308.45 L291.25,308.30 L293.31,308.15 L295.37,308.01 L297.43,307.88 L299.49,307.75 L301.55,307.63 L303.61,307.51 L305.67,307.40 L307.73,307.29 L309.79,307.18 L311.85,307.08 L313.90,306.98 L315.96,306.88 L318.02,306.79 L320.08,306.70 L322.14,306.62 L324.20,306.53 L326.26,306.45 L328.32,306.38 L330.38,306.30 L332.44,306.23 L334.50,306.16 L336.56,306.09 L338.62,306.03 L340.68,305.96 L342.74,305.90 L344.80,305.84 L346.86,305.78 L348.92,305.73 L350.97,305.67 L353.03,305.62 L355.09,305.57 L357.15,305.52 L359.21,305.47 L361.27,305.42 L363.33,305.38 L365.39,305.33 L367.45,305.29 L369.51,305.25 L371.57,305.21 L373.63,305.17 L375.69,305.13 L377.75,305.09 L379.81,305.06 L381.87,305.02 L383.93,304.99 L385.99,304.95" fill="none" stroke-width="2.1" stroke-linejoin="round"/>
<path d="M77.63,514.70 L78.29,514.70 L78.94,514.70 L79.60,514.70 L80.26,514.70 L80.92,514.70 L81.57,514.70 L82.23,514.70 L82.89,514.70 L83.54,514.70 L84.20,514.70 L84.86,514.70 L85.51,514.70 L86.17,514.70 L86.83,514.70 L87.49,514.70 L88.14,514.70 L88.80,514.70 L89.46,514.70 L90.11,514.70 L90.77,514.70 L91.43,514.70 L92.08,514.70 L92.74,514.70 L93.40,514.70 L94.06,514.70 L94.71,514.70 L95.37,514.70 L96.03,514.70 L96.68,514.70 L97.34,514.70 L98.00,514.70 L98.66,514.70 L99.31,514.70 L99.97,514.70 L100.63,514.69 L101.28,514.69 L101.94,514.69 L102.60,514.68 L103.25,514.68 L103.91,514.67 L104.57,514.66 L105.23,514.65 L105.88,514.64 L106.54,514.62 L107.20,514.60 L107.85,514.58 L108.51,514.55 L109.17,514.52 L109.83,514.48 L110.48,514.43 L111.14,514.38 L111.80,514.32 L112.45,514.25 L113.11,514.17 L113.77,514.08 L114.42,513.98 L115.08,513.87 L115.74,513.74 L116.40,513.61 L117.05,513.45 L117.71,513.28 L118.37,513.10 L119.02,512.89 L119.68,512.67 L120.34,512.43 L120.99,512.18 L121.65,511.90 L122.31,511.60 L122.97,511.28 L123.62,510.94 L124.28,510.58 L124.94,510.19 L125.59,509.78 L126.25,509.35 L126.91,508.89 L127.57,508.41 L128.22,507.91 L128.88,507.39 L129.54,506.83 L130.19,506.26 L130.85,505.66 L131.51,505.04 L132.16,504.39 L132.82,503.73 L133.48,503.03 L134.14,502.32 L134.79,501.58 L135.45,500.82 L136.11,500.04 L136.76,499.24 L137.42,498.42 L138.08,497.58 L138.74,496.71 L139.39,495.83 L140.05,494.93 L140.71,494.01 L141.36,493.08 L142.02,492.12 L142.68,491.15 L143.33,490.17 L143.99,489.17 L144.65,488.16 L145.31,487.13 L145.96,486.09 L146.62,485.04 L147.28,483.97 L147.93,482.90 L148.59,481.81 L149.25,480.72 L149.90,479.61 L150.56,478.50 L151.22,477.38 L151.88,476.25 L152.53,475.12 L153.19,473.98 L153.85,472.83 L154.50,471.68 L155.16,470.52 L155.82,469.37 L156.48,468.20 L157.13,467.04 L157.79,465.87 L158.45,464.70 L159.10,463.53 L159.76,462.36 L160.42,461.19 L161.07,460.02 L161.73,458.85 L162.39,457.68 L163.05,456.51 L163.70,455.34 L164.36,454.18 L165.02,453.02 L165.67,451.86 L166.33,450.70 L166.99,449.55 L167.65,448.40 L168.30,447.26 L168.96,446.11 L169.62,444.98 L170.27,443.85 L170.93,442.72 L171.59,441.60 L172.24,440.48 L172.90,439.37 L173.56,438.27 L174.22,437.17 L174.87,436.08 L175.53,434.99 L176.19,433.91 L176.84,432.84 L177.50,431.77 L178.16,430.71 L178.81,429.66 L179.47,428.62 L180.13,427.58 L180.79,426.55 L181.44,425.52 L182.10,424.51 L184.16,421.38 L186.22,418.32 L188.28,415.34 L190.34,412.43 L192.40,409.61 L194.46,406.86 L196.52,404.19 L198.58,401.60 L200.63,399.09 L202.69,396.65 L204.75,394.28 L206.81,391.99 L208.87,389.76 L210.93,387.61 L212.99,385.52 L215.05,383.50 L217.11,381.54 L219.17,379.64 L221.23,377.81 L223.29,376.03 L225.35,374.31 L227.41,372.64 L229.47,371.03 L231.53,369.47 L233.59,367.95 L235.65,366.49 L237.71,365.07 L239.76,363.70 L241.82,362.37 L243.88,361.08 L245.94,359.83 L248.00,358.62 L250.06,357.45 L252.12,356.31 L254.18,355.21 L256.24,354.14 L258.30,353.11 L260.36,352.10 L262.42,351.13 L264.48,350.18 L266.54,349.27 L268.60,348.38 L270.66,347.51 L272.72,346.68 L274.78,345.86 L276.83,345.07 L278.89,344.30 L280.95,343.56 L283.01,342.83 L285.07,342.13 L287.13,341.44 L289.19,340.78 L291.25,340.13 L293.31,339.50 L295.37,338.89 L297.43,338.29 L299.49,337.71 L301.55,337.15 L303.61,336.60 L305.67,336.06 L307.73,335.54 L309.79,335.03 L311.85,334.54 L313.90,334.06 L315.96,333.59 L318.02,333.13 L320.08,332.68 L322.14,332.25 L324.20,331.82 L326.26,331.41 L328.32,331.00 L330.38,330.61 L332.44,330.22 L334.50,329.85 L336.56,329.48 L338.62,329.12 L340.68,328.77 L342.74,328.43 L344.80,328.10 L346.86,327.77 L348.92,327.45 L350.97,327.14 L353.03,326.83 L355.09,326.54 L357.15,326.24 L359.21,325.96 L361.27,325.68 L363.33,325.41 L365.39,325.14 L367.45,324.88 L369.51,324.62 L371.57,324.37 L373.63,324.13 L375.69,323.89 L377.75,323.65 L379.81,323.42 L381.87,323.20 L383.93,322.97 L385.99,322.76" fill="none" stroke-width="2.1" stroke-linejoin="round"/>
<path d="M77.63,514.70 L78.29,514.70 L78.94,514.70 L79.60,514.70 L80.26,514.70 L80.92,514.70 L81.57,514.70 L82.23,514.70 L82.89,514.70 L83.54,514.70 L84.20,514.70 L84.86,514.70 L85.51,514.70 L86.17,514.70 L86.83,514.70 L87.49,514.70 L88.14,514.70 L88.80,514.70 L89.46,514.70 L90.11,514.70 L90.77,514.70 L91.43,514.70 L92.08,514.70 L92.74,514.70 L93.40,514.70 L94.06,514.70 L94.71,514.70 L95.37,514.70 L96.03,514.70 L96.68,514.70 L97.34,514.70 L98.00,514.70 L98.66,514.70 L99.31,514.70 L99.97,514.70 L100.63,514.70 L101.28,514.70 L101.94,514.70 L102.60,514.70 L103.25,514.70 L103.91,514.70 L104.57,514.70 L105.23,514.70 L105.88,514.70 L106.54,514.70 L107.20,514.70 L107.85,514.69 L108.51,514.69 L109.17,514.69 L109.83,514.69 L110.48,514.69 L111.14,514.68 L111.80,514.68 L112.45,514.67 L113.11,514.67 L113.77,514.66 L114.42,514.65 L115.08,514.65 L115.74,514.63 L116.40,514.62 L117.05,514.61 L117.71,514.59 L118.37,514.57 L119.02,514.55 L119.68,514.53 L120.34,514.50 L120.99,514.48 L121.65,514.44 L122.31,514.41 L122.97,514.37 L123.62,514.32 L124.28,514.28 L124.94,514.22 L125.59,514.17 L126.25,514.10 L126.91,514.04 L127.57,513.96 L128.22,513.88 L128.88,513.80 L129.54,513.71 L130.19,513.61 L130.85,513.50 L131.51,513.39 L132.16,513.27 L132.82,513.15 L133.48,513.01 L134.14,512.87 L134.79,512.72 L135.45,512.56 L136.11,512.40 L136.76,512.22 L137.42,512.04 L138.08,511.85 L138.74,511.65 L139.39,511.44 L140.05,511.22 L140.71,510.99 L141.36,510.75 L142.02,510.51 L142.68,510.25 L143.33,509.99 L143.99,509.71 L144.65,509.43 L145.31,509.13 L145.96,508.83 L146.62,508.52 L147.28,508.20 L147.93,507.87 L148.59,507.53 L149.25,507.18 L149.90,506.83 L150.56,506.46 L151.22,506.09 L151.88,505.70 L152.53,505.31 L153.19,504.91 L153.85,504.50 L154.50,504.08 L155.16,503.66 L155.82,503.22 L156.48,502.78 L157.13,502.33 L157.79,501.87 L158.45,501.41 L159.10,500.94 L159.76,500.46 L160.42,499.97 L161.07,499.48 L161.73,498.98 L162.39,498.47 L163.05,497.96 L163.70,497.44 L164.36,496.92 L165.02,496.39 L165.67,495.85 L166.33,495.31 L166.99,494.76 L167.65,494.21 L168.30,493.65 L168.96,493.09 L169.62,492.52 L170.27,491.95 L170.93,491.38 L171.59,490.80 L172.24,490.21 L172.90,489.63 L173.56,489.03 L174.22,488.44 L174.87,487.84 L175.53,487.24 L176.19,486.64 L176.84,486.03 L177.50,485.42 L178.16,484.81 L178.81,484.20 L179.47,483.58 L180.13,482.96 L180.79,482.34 L181.44,481.72 L182.10,481.10 L184.16,479.13 L186.22,477.16 L188.28,475.17 L190.34,473.19 L192.40,471.20 L194.46,469.22 L196.52,467.24 L198.58,465.27 L200.63,463.31 L202.69,461.36 L204.75,459.42 L206.81,457.50 L208.87,455.60 L210.93,453.72 L212.99,451.86 L215.05,450.02 L217.11,448.20 L219.17,446.40 L221.23,444.63 L223.29,442.88 L225.35,441.15 L227.41,439.45 L229.47,437.78 L231.53,436.13 L233.59,434.50 L235.65,432.91 L237.71,431.33 L239.76,429.79 L241.82,428.26 L243.88,426.77 L245.94,425.30 L248.00,423.85 L250.06,422.43 L252.12,421.04 L254.18,419.67 L256.24,418.32 L258.30,417.00 L260.36,415.70 L262.42,414.42 L264.48,413.17 L266.54,411.94 L268.60,410.73 L270.66,409.54 L272.72,408.38 L274.78,407.24 L276.83,406.11 L278.89,405.01 L280.95,403.93 L283.01,402.87 L285.07,401.82 L287.13,400.80 L289.19,399.79 L291.25,398.80 L293.31,397.83 L295.37,396.88 L297.43,395.95 L299.49,395.03 L301.55,394.13 L303.61,393.24 L305.67,392.37 L307.73,391.52 L309.79,390.68 L311.85,389.86 L313.90,389.05 L315.96,388.25 L318.02,387.47 L320.08,386.70 L322.14,385.95 L324.20,385.21 L326.26,384.48 L328.32,383.76 L330.38,383.06 L332.44,382.37 L334.50,381.69 L336.56,381.02 L338.62,380.36 L340.68,379.72 L342.74,379.08 L344.80,378.46 L346.86,377.84 L348.92,377.24 L350.97,376.64 L353.03,376.06 L355.09,375.48 L357.15,374.92 L359.21,374.36 L361.27,373.81 L363.33,373.28 L365.39,372.74 L367.45,372.22 L369.51,371.71 L371.57,371.20 L373.63,370.71 L375.69,370.22 L377.75,369.73 L379.81,369.26 L381.87,368.79 L383.93,368.33 L385.99,367.88" fill="none" stroke-width="2.1" stroke-linejoin="round"/>
<path d="M77.63,514.70 L78.29,514.70 L78.94,514.70 L79.60,514.70 L80.26,514.70 L80.92,514.70 L81.57,514.70 L82.23,514.70 L82.89,514.70 L83.54,514.70 L84.20,514.70 L84.86,514.70 L85.51,514.70 L86.17,514.70 L86.83,514.70 L87.49,514.70 L88.14,514.70 L88.80,514.70 L89.46,514.70 L90.11,514.70 L90.77,514.70 L91.43,514.70 L92.08,514.70 L92.74,514.70 L93.40,514.70 L94.06,514.70 L94.71,514.70 L95.37,514.70 L96.03,514.70 L96.68,514.70 L97.34,514.70 L98.00,514.70 L98.66,514.70 L99.31,514.70 L99.97,514.70 L100.63,514.70 L101.28,514.70 L101.94,514.70 L102.60,514.70 L103.25,514.70 L103.91,514.70 L104.57,514.70 L105.23,514.70 L105.88,514.70 L106.54,514.70 L107.20,514.70 L107.85,514.70 L108.51,514.70 L109.17,514.70 L109.83,514.70 L110.48,514.70 L111.14,514.70 L111.80,514.70 L112.45,514.70 L113.11,514.70 L113.77,514.70 L114.42,514.70 L115.08,514.70 L115.74,514.70 L116.40,514.70 L117.05,514.70 L117.71,514.70 L118.37,514.69 L119.02,514.69 L119.68,514.69 L120.34,514.69 L120.99,514.69 L121.65,514.69 L122.31,514.68 L122.97,514.68 L123.62,514.68 L124.28,514.68 L124.94,514.67 L125.59,514.67 L126.25,514.66 L126.91,514.66 L127.57,514.65 L128.22,514.64 L128.88,514.64 L129.54,514.63 L130.19,514.62 L130.85,514.61 L131.51,514.60 L132.16,514.59 L132.82,514.57 L133.48,514.56 L134.14,514.54 L134.79,514.53 L135.45,514.51 L136.11,514.49 L136.76,514.47 L137.42,514.45 L138.08,514.43 L138.74,514.40 L139.39,514.37 L140.05,514.35 L140.71,514.31 L141.36,514.28 L142.02,514.25 L142.68,514.21 L143.33,514.17 L143.99,514.13 L144.65,514.09 L145.31,514.05 L145.96,514.00 L146.62,513.95 L147.28,513.90 L147.93,513.84 L148.59,513.79 L149.25,513.73 L149.90,513.67 L150.56,513.60 L151.22,513.54 L151.88,513.47 L152.53,513.39 L153.19,513.32 L153.85,513.24 L154.50,513.16 L155.16,513.08 L155.82,512.99 L156.48,512.90 L157.13,512.81 L157.79,512.71 L158.45,512.61 L159.10,512.51 L159.76,512.41 L160.42,512.30 L161.07,512.19 L161.73,512.08 L162.39,511.96 L163.05,511.84 L163.70,511.72 L164.36,511.59 L165.02,511.46 L165.67,511.33 L166.33,511.20 L166.99,511.06 L167.65,510.92 L168.30,510.78 L168.96,510.63 L169.62,510.48 L170.27,510.33 L170.93,510.17 L171.59,510.01 L172.24,509.85 L172.90,509.68 L173.56,509.52 L174.22,509.35 L174.87,509.17 L175.53,509.00 L176.19,508.82 L176.84,508.64 L177.50,508.45 L178.16,508.27 L178.81,508.08 L179.47,507.88 L180.13,507.69 L180.79,507.49 L181.44,507.29 L182.10,507.09 L184.16,506.44 L186.22,505.77 L188.28,505.07 L190.34,504.35 L192.40,503.61 L194.46,502.86 L196.52,502.08 L198.58,501.30 L200.63,500.49 L202.69,499.67 L204.75,498.84 L206.81,497.99 L208.87,497.14 L210.93,496.27 L212.99,495.40 L215.05,494.52 L217.11,493.63 L219.17,492.74 L221.23,491.84 L223.29,490.94 L225.35,490.03 L227.41,489.12 L229.47,488.21 L231.53,487.29 L233.59,486.38 L235.65,485.47 L237.71,484.55 L239.76,483.64 L241.82,482.73 L243.88,481.82 L245.94,480.92 L248.00,480.01 L250.06,479.11 L252.12,478.22 L254.18,477.33 L256.24,476.44 L258.30,475.56 L260.36,474.68 L262.42,473.80 L264.48,472.94 L266.54,472.07 L268.60,471.22 L270.66,470.37 L272.72,469.52 L274.78,468.68 L276.83,467.85 L278.89,467.03 L280.95,466.21 L283.01,465.40 L285.07,464.59 L287.13,463.79 L289.19,463.00 L291.25,462.22 L293.31,461.44 L295.37,460.67 L297.43,459.90 L299.49,459.15 L301.55,458.40 L303.61,457.66 L305.67,456.92 L307.73,456.19 L309.79,455.47 L311.85,454.76 L313.90,454.05 L315.96,453.35 L318.02,452.66 L320.08,451.97 L322.14,451.29 L324.20,450.62 L326.26,449.95 L328.32,449.29 L330.38,448.64 L332.44,447.99 L334.50,447.36 L336.56,446.72 L338.62,446.10 L340.68,445.48 L342.74,444.87 L344.80,444.26 L346.86,443.66 L348.92,443.06 L350.97,442.48 L353.03,441.89 L355.09,441.32 L357.15,440.75 L359.21,440.19 L361.27,439.63 L363.33,439.08 L365.39,438.53 L367.45,437.99 L369.51,437.45 L371.57,436.93 L373.63,436.40 L375.69,435.88 L377.75,435.37 L379.81,434.86 L381.87,434.36 L383.93,433.86 L385.99,433.37" fill="none" stroke-width="2.1" stroke-linejoin="round"/>
</g>
<line x1="114.70" y1="408.80" x2="114.70" y2="503.40" stroke-width="1.7"/>
<polygon points="108.80,498.40 120.60,498.40 114.70,508.40" fill="#000" stroke="none"/>
<line x1="148.40" y1="408.80" x2="148.40" y2="503.40" stroke-width="1.7"/>
<polygon points="142.50,498.40 154.30,498.40 148.40,508.40" fill="#000" stroke="none"/>
<line x1="185.13" y1="421.08" x2="185.13" y2="503.40" stroke-width="1.7"/>
<polygon points="179.23,498.40 191.03,498.40 185.13,508.40" fill="#000" stroke="none"/>
<line x1="225.24" y1="440.99" x2="225.24" y2="503.40" stroke-width="1.7"/>
<polygon points="219.34,498.40 231.14,498.40 225.24,508.40" fill="#000" stroke="none"/>
<line x1="265.34" y1="472.76" x2="265.34" y2="503.40" stroke-width="1.7"/>
<polygon points="259.44,498.40 271.24,498.40 265.34,508.40" fill="#000" stroke="none"/>
<rect x="47.30" y="292.90" width="337.00" height="221.80" fill="none" stroke-width="1.4"/>
<text stroke="#000" stroke-width="0.15" transform="translate(42.30,519.40) scale(1.0,1)" font-size="13.1" text-anchor="end">0</text>
<line x1="47.30" y1="493.52" x2="50.70" y2="493.52" stroke-width="1.4"/>
<line x1="47.30" y1="472.34" x2="53.80" y2="472.34" stroke-width="1.4"/>
<text stroke="#000" stroke-width="0.15" transform="translate(42.30,477.04) scale(1.0,1)" font-size="13.1" text-anchor="end">20</text>
<line x1="47.30" y1="451.16" x2="50.70" y2="451.16" stroke-width="1.4"/>
<line x1="47.30" y1="429.98" x2="53.80" y2="429.98" stroke-width="1.4"/>
<text stroke="#000" stroke-width="0.15" transform="translate(42.30,434.68) scale(1.0,1)" font-size="13.1" text-anchor="end">40</text>
<line x1="47.30" y1="408.80" x2="50.70" y2="408.80" stroke-width="1.4"/>
<line x1="47.30" y1="387.62" x2="53.80" y2="387.62" stroke-width="1.4"/>
<text stroke="#000" stroke-width="0.15" transform="translate(42.30,392.32) scale(1.0,1)" font-size="13.1" text-anchor="end">60</text>
<line x1="47.30" y1="366.44" x2="50.70" y2="366.44" stroke-width="1.4"/>
<line x1="47.30" y1="345.26" x2="53.80" y2="345.26" stroke-width="1.4"/>
<text stroke="#000" stroke-width="0.15" transform="translate(42.30,349.96) scale(1.0,1)" font-size="13.1" text-anchor="end">80</text>
<line x1="47.30" y1="324.08" x2="50.70" y2="324.08" stroke-width="1.4"/>
<line x1="47.30" y1="302.90" x2="53.80" y2="302.90" stroke-width="1.4"/>
<text stroke="#000" stroke-width="0.15" transform="translate(42.30,307.60) scale(1.0,1)" font-size="13.1" text-anchor="end">100</text>
<text stroke="#000" stroke-width="0.15" transform="translate(45.85,528.80) scale(1.0,1)" font-size="13.1" text-anchor="middle">0</text>
<line x1="81.00" y1="514.70" x2="81.00" y2="511.30" stroke-width="1.4"/>
<text stroke="#000" stroke-width="0.15" transform="translate(79.80,528.80) scale(1.0,1)" font-size="13.1" text-anchor="middle">1</text>
<line x1="114.70" y1="514.70" x2="114.70" y2="508.20" stroke-width="1.4"/>
<text stroke="#000" stroke-width="0.15" transform="translate(113.75,528.80) scale(1.0,1)" font-size="13.1" text-anchor="middle">2</text>
<line x1="148.40" y1="514.70" x2="148.40" y2="511.30" stroke-width="1.4"/>
<text stroke="#000" stroke-width="0.15" transform="translate(147.70,528.80) scale(1.0,1)" font-size="13.1" text-anchor="middle">3</text>
<line x1="182.10" y1="514.70" x2="182.10" y2="508.20" stroke-width="1.4"/>
<text stroke="#000" stroke-width="0.15" transform="translate(181.65,528.80) scale(1.0,1)" font-size="13.1" text-anchor="middle">4</text>
<line x1="215.80" y1="514.70" x2="215.80" y2="511.30" stroke-width="1.4"/>
<text stroke="#000" stroke-width="0.15" transform="translate(215.60,528.80) scale(1.0,1)" font-size="13.1" text-anchor="middle">5</text>
<line x1="249.50" y1="514.70" x2="249.50" y2="508.20" stroke-width="1.4"/>
<text stroke="#000" stroke-width="0.15" transform="translate(249.55,528.80) scale(1.0,1)" font-size="13.1" text-anchor="middle">6</text>
<line x1="283.20" y1="514.70" x2="283.20" y2="511.30" stroke-width="1.4"/>
<text stroke="#000" stroke-width="0.15" transform="translate(283.50,528.80) scale(1.0,1)" font-size="13.1" text-anchor="middle">7</text>
<line x1="316.90" y1="514.70" x2="316.90" y2="508.20" stroke-width="1.4"/>
<text stroke="#000" stroke-width="0.15" transform="translate(317.45,528.80) scale(1.0,1)" font-size="13.1" text-anchor="middle">8</text>
<line x1="350.60" y1="514.70" x2="350.60" y2="511.30" stroke-width="1.4"/>
<text stroke="#000" stroke-width="0.15" transform="translate(351.40,528.80) scale(1.0,1)" font-size="13.1" text-anchor="middle">9</text>
<text stroke="#000" stroke-width="0.15" transform="translate(385.35,528.80) scale(1.0,1)" font-size="13.1" text-anchor="middle">10</text>
<text stroke="#000" stroke-width="0.15" transform="translate(210.00,547.50) scale(1.08,1)" font-size="13.8" text-anchor="middle">Imbibition time (days)</text>
<text stroke="#000" stroke-width="0.15" transform="translate(11.50,406.30) rotate(-90) scale(1.074,1)" font-size="14.5" text-anchor="middle">Germinated (%)</text>
<text stroke="#000" stroke-width="0.15" transform="translate(130.00,316.50) scale(1.0,1)" font-size="13.1" text-anchor="middle">1</text>
<text stroke="#000" stroke-width="0.15" transform="translate(176.20,340.20) scale(1.0,1)" font-size="13.1" text-anchor="middle">2</text>
<text stroke="#000" stroke-width="0.15" transform="translate(221.20,368.80) scale(1.0,1)" font-size="13.1" text-anchor="middle">3</text>
<text stroke="#000" stroke-width="0.15" transform="translate(274.60,398.40) scale(1.0,1)" font-size="13.1" text-anchor="middle">4</text>
<text stroke="#000" stroke-width="0.15" transform="translate(333.00,439.80) scale(1.0,1)" font-size="13.1" text-anchor="middle">5</text>
<text stroke="#000" stroke-width="0.15" x="0.4" y="297" font-size="15.3" font-weight="bold">b</text>
</g>
<g id="panel-c">
<path d="M54.20,771.37 L54.95,771.25 L55.70,771.13 L56.45,771.00 L57.20,770.88 L57.95,770.75 L58.70,770.63 L59.45,770.50 L60.20,770.38 L60.95,770.25 L61.70,770.13 L62.45,770.00 L63.20,769.88 L63.95,769.75 L64.70,769.63 L65.45,769.50 L66.20,769.37 L66.95,769.24 L67.70,769.12 L68.45,768.99 L69.20,768.86 L69.95,768.73 L70.70,768.60 L71.45,768.47 L72.20,768.34 L72.95,768.21 L73.70,768.08 L74.45,767.95 L75.20,767.82 L75.95,767.69 L76.71,767.56 L77.46,767.43 L78.21,767.29 L78.96,767.16 L79.71,767.03 L80.46,766.89 L81.21,766.76 L81.96,766.62 L82.71,766.49 L83.46,766.35 L84.21,766.21 L84.96,766.08 L85.71,765.94 L86.46,765.80 L87.21,765.66 L87.96,765.52 L88.71,765.38 L89.46,765.24 L90.21,765.10 L90.96,764.96 L91.71,764.81 L92.46,764.67 L93.21,764.53 L93.96,764.38 L94.71,764.24 L95.46,764.09 L96.21,763.94 L96.96,763.80 L97.71,763.65 L98.46,763.50 L99.21,763.35 L99.96,763.20 L100.71,763.05 L101.46,762.90 L102.21,762.74 L102.96,762.59 L103.71,762.44 L104.46,762.28 L105.21,762.13 L105.96,761.97 L106.71,761.81 L107.46,761.65 L108.21,761.49 L108.96,761.33 L109.71,761.17 L110.46,761.01 L111.21,760.85 L111.96,760.69 L112.71,760.52 L113.46,760.36 L114.21,760.19" fill="none" stroke-width="2.6" stroke-linejoin="round"/>
<path d="M129.21,756.66 L129.96,756.47 L130.71,756.28 L131.46,756.09 L132.21,755.90 L132.96,755.71 L133.71,755.52 L134.46,755.33 L135.21,755.13 L135.96,754.93 L136.72,754.74 L137.47,754.54 L138.22,754.34 L138.97,754.14 L139.72,753.94 L140.47,753.74 L141.22,753.54 L141.97,753.33 L142.72,753.13 L143.47,752.92 L144.22,752.71 L144.97,752.51 L145.72,752.30 L146.47,752.09 L147.22,751.87 L147.97,751.66 L148.72,751.45 L149.47,751.23 L150.22,751.02 L150.97,750.80 L151.72,750.58 L152.47,750.37 L153.22,750.15 L153.97,749.93 L154.72,749.70 L155.47,749.48 L156.22,749.26 L156.97,749.03 L157.72,748.81 L158.47,748.58 L159.22,748.35 L159.97,748.12 L160.72,747.89 L161.47,747.66 L162.22,747.43 L162.97,747.20 L163.72,746.96 L164.47,746.73 L165.22,746.49 L165.97,746.26 L166.72,746.02 L167.47,745.78 L168.22,745.54 L168.97,745.30 L169.72,745.06 L170.47,744.81 L171.22,744.57 L171.97,744.33 L172.72,744.08 L173.47,743.84 L174.22,743.59 L174.97,743.34 L175.72,743.09 L176.47,742.84 L177.22,742.59 L177.97,742.34 L178.72,742.09 L179.47,741.84 L180.22,741.59 L180.97,741.33 L181.72,741.08 L182.47,740.82 L183.22,740.57 L183.97,740.31 L184.72,740.05 L185.47,739.79 L186.22,739.54 L186.97,739.28 L187.72,739.02 L188.47,738.76 L189.22,738.49" fill="none" stroke-width="2.6" stroke-linejoin="round"/>
<path d="M203.48,733.43 L204.23,733.15 L204.98,732.88 L205.73,732.61 L206.48,732.34 L207.23,732.07 L207.98,731.79 L208.73,731.52 L209.48,731.25 L210.23,730.97 L210.98,730.70 L211.73,730.42 L212.48,730.15 L213.23,729.87 L213.98,729.60 L214.73,729.33 L215.48,729.05 L216.23,728.77 L216.98,728.50 L217.73,728.22 L218.48,727.95 L219.23,727.67 L219.98,727.40 L220.73,727.12 L221.48,726.85 L222.23,726.57 L222.98,726.29 L223.73,726.02 L224.48,725.74 L225.23,725.47 L225.98,725.19 L226.73,724.92 L227.48,724.64 L228.23,724.37 L228.98,724.09 L229.73,723.82 L230.48,723.54 L231.23,723.27 L231.98,722.99 L232.73,722.72 L233.48,722.45 L234.23,722.17 L234.98,721.90 L235.73,721.62 L236.48,721.35 L237.23,721.08 L237.98,720.80 L238.73,720.52 L239.48,720.24 L240.23,719.96 L240.98,719.68 L241.73,719.40 L242.48,719.11 L243.23,718.82 L243.98,718.53 L244.73,718.23 L245.48,717.93 L246.23,717.63 L246.98,717.32 L247.73,717.01 L248.48,716.70 L249.23,716.37 L249.98,716.05 L250.73,715.72 L251.48,715.38 L252.23,715.04 L252.98,714.69 L253.73,714.33 L254.48,713.97 L255.23,713.60 L255.98,713.23 L256.74,712.84 L257.49,712.45 L258.24,712.05 L258.99,711.65 L259.74,711.23 L260.49,710.81 L261.24,710.37 L261.99,709.93 L262.74,709.48 L263.49,709.02 L264.24,708.54 L264.99,708.06" fill="none" stroke-width="2.6" stroke-linejoin="round"/>
<path d="M276.99,698.78 L277.74,698.11 L278.49,697.42 L279.24,696.72 L279.99,696.01 L280.74,695.29 L281.49,694.56 L282.24,693.82 L282.99,693.07 L283.74,692.32 L284.49,691.55 L285.24,690.78 L285.99,690.00 L286.74,689.21 L287.49,688.41 L288.24,687.60 L288.99,686.79 L289.74,685.97 L290.49,685.15 L291.24,684.32 L291.99,683.48 L292.74,682.63 L293.49,681.78 L294.24,680.93 L294.99,680.07 L295.74,679.20 L296.49,678.33 L297.24,677.45 L297.99,676.57 L298.74,675.69 L299.49,674.79 L300.24,673.89 L300.99,672.98 L301.74,672.06 L302.49,671.13 L303.24,670.19 L303.99,669.24 L304.74,668.27 L305.49,667.29 L306.24,666.29 L306.99,665.28 L307.74,664.25 L308.49,663.20 L309.24,662.14 L309.99,661.05 L310.74,659.94 L311.49,658.81 L312.24,657.66 L312.99,656.50 L313.74,655.31 L314.49,654.10 L315.24,652.88 L315.99,651.64 L316.75,650.38 L317.50,649.11 L318.25,647.82 L319.00,646.52 L319.75,645.21 L320.50,643.89 L321.25,642.55 L322.00,641.21 L322.75,639.85 L323.50,638.49 L324.25,637.12 L325.00,635.75 L325.75,634.36 L326.50,632.97 L327.25,631.57 L328.00,630.16 L328.75,628.74 L329.50,627.30 L330.25,625.85 L331.00,624.38 L331.75,622.90 L332.50,621.39 L333.25,619.87 L334.00,618.32 L334.75,616.75 L335.50,615.16 L336.25,613.54 L337.00,611.89 L337.75,610.22 L338.50,608.51 L339.25,606.77 L340.00,605.00 L340.75,603.20 L341.50,601.36 L342.25,599.48 L343.00,597.57" fill="none" stroke-width="2.6" stroke-linejoin="round"/>
<path d="M54.18,771.20 L56.05,770.84 L57.92,770.49 L59.79,770.14 L61.67,769.79 L63.54,769.44 L65.41,769.08 L67.28,768.73 L69.15,768.38 L71.02,768.03 L72.89,767.68 L74.76,767.32 L76.63,766.97 L78.50,766.62 L80.37,766.27 L82.24,765.91 L84.11,765.56 L85.98,765.21 L87.85,764.86 L89.72,764.51 L91.59,764.15 L93.47,763.80 L95.34,763.45 L97.21,763.10 L99.08,762.75 L100.95,762.39 L102.82,762.04 L104.69,761.69 L106.56,761.34 L108.43,760.98 L110.30,760.63 L112.17,760.28 L114.04,759.93" fill="none" stroke-width="2.6" stroke-linejoin="round"/>
<path d="M129.01,756.79 L130.88,756.35 L132.75,755.92 L134.62,755.48 L136.49,755.05 L138.36,754.62 L140.23,754.18 L142.10,753.75 L143.97,753.32 L145.84,752.88 L147.71,752.45 L149.58,752.01 L151.46,751.58 L153.33,751.15 L155.20,750.71 L157.07,750.28 L158.94,749.85 L160.81,749.41 L162.68,748.98 L164.55,748.55 L166.42,748.11 L168.29,747.68 L170.16,747.24 L172.03,746.81 L173.90,746.38 L175.77,745.94 L177.64,745.51 L179.51,745.08 L181.39,744.64 L183.26,744.21 L185.13,743.77 L187.00,743.34 L188.87,742.91" fill="none" stroke-width="2.6" stroke-linejoin="round"/>
<path d="M203.83,739.42 L205.70,738.99 L207.57,738.55 L209.44,738.11 L211.32,737.67 L213.19,737.24 L215.06,736.80 L216.93,736.36 L218.80,735.92 L220.67,735.49 L222.54,735.05 L224.41,734.61 L226.28,734.17 L228.15,733.74 L230.02,733.30 L231.89,732.86 L233.76,732.43 L235.63,731.99 L237.50,731.55 L239.37,731.11 L241.25,730.68 L243.12,730.24 L244.99,729.80 L246.86,729.36 L248.73,728.93 L250.60,728.49 L252.47,728.05 L254.34,727.61 L256.21,727.18 L258.08,726.74 L259.95,726.30 L261.82,725.86 L263.69,725.43" fill="none" stroke-width="2.6" stroke-linejoin="round"/>
<path d="M278.66,721.90 L280.53,721.45 L282.40,721.01 L284.27,720.56 L286.14,720.12 L288.01,719.67 L289.88,719.23 L291.75,718.78 L293.62,718.34 L295.49,717.89 L297.36,717.45 L299.23,717.01 L301.11,716.56 L302.98,716.12 L304.85,715.67 L306.72,715.23 L308.59,714.78 L310.46,714.34 L312.33,713.89 L314.20,713.45 L316.07,713.00 L317.94,712.56 L319.81,712.11 L321.68,711.67 L323.55,711.22 L325.42,710.78 L327.29,710.33 L329.16,709.89 L331.04,709.44 L332.91,709.00 L334.78,708.55 L336.65,708.11 L338.52,707.66" fill="none" stroke-width="2.6" stroke-linejoin="round"/>
<circle cx="48.20" cy="772.61" r="4.6" fill="#000" stroke="none"/>
<circle cx="121.53" cy="758.52" r="4.6" fill="#000" stroke="none"/>
<circle cx="196.35" cy="735.98" r="4.6" fill="#000" stroke="none"/>
<circle cx="271.18" cy="703.66" r="4.6" fill="#000" stroke="none"/>
<circle cx="346.00" cy="589.50" r="4.6" fill="#000" stroke="none"/>
<circle cx="196.35" cy="741.17" r="3.5999999999999996" fill="#fff" stroke-width="2.1"/>
<circle cx="271.18" cy="723.68" r="3.5999999999999996" fill="#fff" stroke-width="2.1"/>
<circle cx="346.00" cy="705.89" r="3.5999999999999996" fill="#fff" stroke-width="2.1"/>
<rect x="46.70" y="580.60" width="337.10" height="222.40" fill="none" stroke-width="1.4"/>
<text stroke="#000" stroke-width="0.15" transform="translate(41.70,807.30) scale(1.0,1)" font-size="13.1" text-anchor="end">0</text>
<line x1="46.70" y1="788.17" x2="50.10" y2="788.17" stroke-width="1.4"/>
<line x1="46.70" y1="773.35" x2="50.10" y2="773.35" stroke-width="1.4"/>
<line x1="46.70" y1="758.52" x2="50.10" y2="758.52" stroke-width="1.4"/>
<line x1="46.70" y1="743.69" x2="50.10" y2="743.69" stroke-width="1.4"/>
<line x1="46.70" y1="728.87" x2="53.20" y2="728.87" stroke-width="1.4"/>
<text stroke="#000" stroke-width="0.15" transform="translate(41.70,733.17) scale(1.0,1)" font-size="13.1" text-anchor="end">5</text>
<line x1="46.70" y1="714.04" x2="50.10" y2="714.04" stroke-width="1.4"/>
<line x1="46.70" y1="699.21" x2="50.10" y2="699.21" stroke-width="1.4"/>
<line x1="46.70" y1="684.39" x2="50.10" y2="684.39" stroke-width="1.4"/>
<line x1="46.70" y1="669.56" x2="50.10" y2="669.56" stroke-width="1.4"/>
<line x1="46.70" y1="654.73" x2="53.20" y2="654.73" stroke-width="1.4"/>
<text stroke="#000" stroke-width="0.15" transform="translate(41.70,659.03) scale(1.0,1)" font-size="13.1" text-anchor="end">10</text>
<line x1="46.70" y1="639.91" x2="50.10" y2="639.91" stroke-width="1.4"/>
<line x1="46.70" y1="625.08" x2="50.10" y2="625.08" stroke-width="1.4"/>
<line x1="46.70" y1="610.25" x2="50.10" y2="610.25" stroke-width="1.4"/>
<line x1="46.70" y1="595.43" x2="50.10" y2="595.43" stroke-width="1.4"/>
<text stroke="#000" stroke-width="0.15" transform="translate(41.70,584.90) scale(1.0,1)" font-size="13.1" text-anchor="end">15</text>
<text stroke="#000" stroke-width="0.15" transform="translate(46.70,818.00) scale(1.0,1)" font-size="13.1" text-anchor="middle">1</text>
<line x1="121.53" y1="803.00" x2="121.53" y2="796.50" stroke-width="1.4"/>
<text stroke="#000" stroke-width="0.15" transform="translate(121.53,818.00) scale(1.0,1)" font-size="13.1" text-anchor="middle">2</text>
<line x1="196.35" y1="803.00" x2="196.35" y2="796.50" stroke-width="1.4"/>
<text stroke="#000" stroke-width="0.15" transform="translate(196.35,818.00) scale(1.0,1)" font-size="13.1" text-anchor="middle">3</text>
<line x1="271.18" y1="803.00" x2="271.18" y2="796.50" stroke-width="1.4"/>
<text stroke="#000" stroke-width="0.15" transform="translate(271.18,818.00) scale(1.0,1)" font-size="13.1" text-anchor="middle">4</text>
<line x1="346.00" y1="803.00" x2="346.00" y2="796.50" stroke-width="1.4"/>
<text stroke="#000" stroke-width="0.15" transform="translate(346.00,818.00) scale(1.0,1)" font-size="13.1" text-anchor="middle">5</text>
<text stroke="#000" stroke-width="0.15" transform="translate(215.40,838.10) scale(1.08,1)" font-size="13.8" text-anchor="middle">Germination time course</text>
<text stroke="#000" stroke-width="0.15" transform="translate(10.30,691.60) rotate(-90) scale(1.014,1)" font-size="14.5" text-anchor="middle">Days</text>
<text stroke="#000" stroke-width="0.15" x="0.4" y="584.8" font-size="15.3" font-weight="bold">c</text>
<text stroke="#000" stroke-width="0.15" transform="translate(292.4,604.6)" font-size="13.4"><tspan font-style="italic">t</tspan><tspan font-style="italic" font-size="9.3" dy="2.3">50</tspan><tspan dy="-2.3" dx="2.4">(a)</tspan></text>
<text stroke="#000" stroke-width="0.15" transform="translate(318.0,737.0)" font-size="13.4"><tspan font-style="italic">t</tspan><tspan font-style="italic" font-size="9.3" dy="2.3">50</tspan><tspan dy="-2.3" dx="2.4">(b)</tspan></text>
<rect x="110.50" y="591.50" width="113.40" height="110.20" fill="#fff" stroke-width="1.4"/>
<path d="M114.92,605.70 L115.55,606.55 L116.18,607.41 L116.81,608.27 L117.44,609.12 L118.08,609.98 L118.71,610.84 L119.34,611.70 L119.97,612.55 L120.60,613.41 L121.23,614.27 L121.86,615.12 L122.49,615.98 L123.12,616.84 L123.76,617.69 L124.39,618.55 L125.02,619.41 L125.65,620.26 L126.28,621.12 L126.91,621.98 L127.54,622.83 L128.18,623.69 L128.81,624.55 L129.44,625.40 L130.07,626.26 L130.70,627.12 L131.33,627.97" fill="none" stroke-width="2.6" stroke-linejoin="round"/>
<path d="M141.43,639.00 L142.06,639.56 L142.69,640.11 L143.32,640.67 L143.96,641.23 L144.59,641.79 L145.22,642.35 L145.85,642.91 L146.48,643.47 L147.11,644.02 L147.74,644.58 L148.38,645.14 L149.01,645.70 L149.64,646.26 L150.27,646.82 L150.90,647.37 L151.53,647.93 L152.16,648.49 L152.79,649.05 L153.43,649.61 L154.06,650.17 L154.69,650.73 L155.32,651.28" fill="none" stroke-width="2.6" stroke-linejoin="round"/>
<path d="M167.31,660.16 L167.94,660.55 L168.57,660.93 L169.21,661.32 L169.84,661.70 L170.47,662.09 L171.10,662.47 L171.73,662.86 L172.36,663.24 L172.99,663.63 L173.62,664.01 L174.26,664.40 L174.89,664.78 L175.52,665.17 L176.15,665.55 L176.78,665.94 L177.41,666.32 L178.04,666.71 L178.68,667.09 L179.31,667.48 L179.94,667.86" fill="none" stroke-width="2.6" stroke-linejoin="round"/>
<path d="M192.56,675.74 L193.19,676.14 L193.82,676.55 L194.46,676.95 L195.09,677.35 L195.72,677.76 L196.35,678.16 L196.98,678.56 L197.61,678.96 L198.24,679.37 L198.88,679.77 L199.51,680.17 L200.14,680.58 L200.77,680.98 L201.40,681.38 L202.03,681.78 L202.66,682.19 L203.29,682.59 L203.93,682.99 L204.56,683.40 L205.19,683.80" fill="none" stroke-width="2.6" stroke-linejoin="round"/>
<path d="M142.06,638.31 L142.69,638.74 L143.32,639.17 L143.96,639.61 L144.59,640.04 L145.22,640.47 L145.85,640.91 L146.48,641.34 L147.11,641.77 L147.74,642.21 L148.38,642.64 L149.01,643.08 L149.64,643.51 L150.27,643.94 L150.90,644.38 L151.53,644.81 L152.16,645.24 L152.79,645.68 L153.43,646.11 L154.06,646.54 L154.69,646.98" fill="none" stroke-width="2.6" stroke-linejoin="round"/>
<path d="M167.94,654.51 L168.57,654.80 L169.21,655.09 L169.84,655.38 L170.47,655.67 L171.10,655.96 L171.73,656.25 L172.36,656.54 L172.99,656.84 L173.62,657.13 L174.26,657.42 L174.89,657.71 L175.52,658.00 L176.15,658.29 L176.78,658.58 L177.41,658.87 L178.04,659.16 L178.68,659.45 L179.31,659.74" fill="none" stroke-width="2.6" stroke-linejoin="round"/>
<path d="M193.19,665.04 L193.82,665.24 L194.46,665.43 L195.09,665.62 L195.72,665.81 L196.35,666.00 L196.98,666.19 L197.61,666.38 L198.24,666.57 L198.88,666.77 L199.51,666.96 L200.14,667.15 L200.77,667.34 L201.40,667.53 L202.03,667.72 L202.66,667.91 L203.29,668.10 L203.93,668.30 L204.56,668.49" fill="none" stroke-width="2.6" stroke-linejoin="round"/>
<circle cx="110.50" cy="599.70" r="4.6" fill="#000" stroke="none"/>
<circle cx="135.75" cy="633.97" r="4.6" fill="#000" stroke="none"/>
<circle cx="161.00" cy="656.31" r="4.6" fill="#000" stroke="none"/>
<circle cx="186.25" cy="671.71" r="4.6" fill="#000" stroke="none"/>
<circle cx="211.50" cy="687.83" r="4.6" fill="#000" stroke="none"/>
<circle cx="161.00" cy="651.31" r="3.5999999999999996" fill="#fff" stroke-width="2.1"/>
<circle cx="186.25" cy="662.94" r="3.5999999999999996" fill="#fff" stroke-width="2.1"/>
<circle cx="211.50" cy="670.59" r="3.5999999999999996" fill="#fff" stroke-width="2.1"/>
<text stroke="#000" stroke-width="0.15" transform="translate(105.50,703.30) scale(1.0,1)" font-size="11.0" text-anchor="end">0</text>
<line x1="110.50" y1="681.30" x2="115.50" y2="681.30" stroke-width="1.4"/>
<text stroke="#000" stroke-width="0.15" transform="translate(105.50,684.70) scale(1.0,1)" font-size="11.0" text-anchor="end">0.1</text>
<line x1="110.50" y1="660.90" x2="115.50" y2="660.90" stroke-width="1.4"/>
<text stroke="#000" stroke-width="0.15" transform="translate(105.50,664.30) scale(1.0,1)" font-size="11.0" text-anchor="end">0.2</text>
<line x1="110.50" y1="640.50" x2="115.50" y2="640.50" stroke-width="1.4"/>
<text stroke="#000" stroke-width="0.15" transform="translate(105.50,643.90) scale(1.0,1)" font-size="11.0" text-anchor="end">0.3</text>
<line x1="110.50" y1="620.10" x2="115.50" y2="620.10" stroke-width="1.4"/>
<text stroke="#000" stroke-width="0.15" transform="translate(105.50,623.50) scale(1.0,1)" font-size="11.0" text-anchor="end">0.4</text>
<line x1="110.50" y1="599.70" x2="115.50" y2="599.70" stroke-width="1.4"/>
<text stroke="#000" stroke-width="0.15" transform="translate(105.50,603.10) scale(1.0,1)" font-size="11.0" text-anchor="end">0.5</text>
<text stroke="#000" stroke-width="0.15" transform="translate(111.30,716.00) scale(1.0,1)" font-size="11.0" text-anchor="middle">1</text>
<line x1="135.75" y1="701.70" x2="135.75" y2="697.20" stroke-width="1.4"/>
<text stroke="#000" stroke-width="0.15" transform="translate(136.55,716.00) scale(1.0,1)" font-size="11.0" text-anchor="middle">2</text>
<line x1="161.00" y1="701.70" x2="161.00" y2="697.20" stroke-width="1.4"/>
<text stroke="#000" stroke-width="0.15" transform="translate(161.80,716.00) scale(1.0,1)" font-size="11.0" text-anchor="middle">3</text>
<line x1="186.25" y1="701.70" x2="186.25" y2="697.20" stroke-width="1.4"/>
<text stroke="#000" stroke-width="0.15" transform="translate(187.05,716.00) scale(1.0,1)" font-size="11.0" text-anchor="middle">4</text>
<line x1="211.50" y1="701.70" x2="211.50" y2="697.20" stroke-width="1.4"/>
<text stroke="#000" stroke-width="0.15" transform="translate(212.30,716.00) scale(1.0,1)" font-size="11.0" text-anchor="middle">5</text>
<text stroke="#000" stroke-width="0.15" transform="translate(77.30,647.00) rotate(-90) scale(1.0,1)" font-size="11" text-anchor="middle">1/days</text>
</g>
</g>
</svg>
</body>
</html>
